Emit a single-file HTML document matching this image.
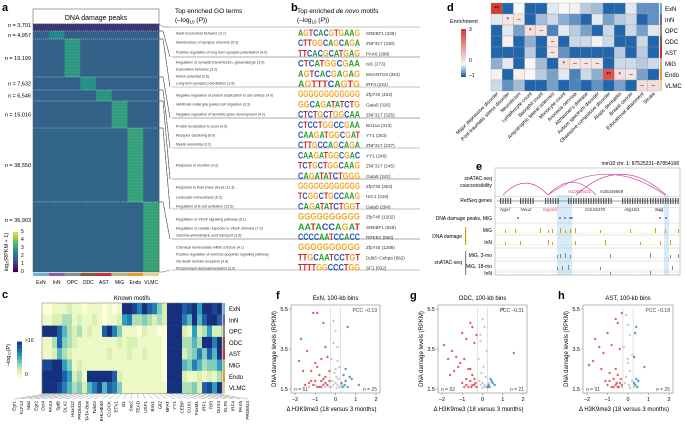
<!DOCTYPE html>
<html><head><meta charset="utf-8"><style>
body{margin:0;background:#fff}
svg{display:block;font-family:"Liberation Sans",sans-serif}
</style></head><body>
<svg id="fig" width="685" height="428" viewBox="0 0 685 428">
<g font-weight="bold" font-size="11" fill="#000">
<text x="2" y="11">a</text>
<text x="291" y="11">b</text>
<text x="447" y="11">d</text>
<text x="476" y="170">e</text>
<text x="2" y="298">c</text>
<text x="276" y="299">f</text>
<text x="410" y="299">g</text>
<text x="558" y="299">h</text>
</g>
<rect x="33" y="9" width="126" height="15" fill="#fff" stroke="#666" stroke-width="0.6"/>
<text x="96" y="20" font-size="7" text-anchor="middle">DNA damage peaks</text>
<g id="ga"></g>
<g id="gb"></g>
<text x="175" y="13" font-size="6.5">Top enriched GO terms</text>
<text x="175" y="22" font-size="6.5">(–log<tspan font-size="4.5" dy="1.5">10</tspan><tspan dy="-1.5"> (</tspan><tspan font-style="italic">P</tspan>))</text>
<text x="297" y="13" font-size="6.5">Top enriched <tspan font-style="italic">de novo</tspan> motifs</text>
<text x="297" y="22" font-size="6.5">(–log<tspan font-size="4.5" dy="1.5">10</tspan><tspan dy="-1.5"> (</tspan><tspan font-style="italic">P</tspan>))</text>
<g id="gc"></g>
<g id="gd"></g>
<g id="ge"></g>
<g id="gs"></g>
</svg>
<script>
const NS="http://www.w3.org/2000/svg";
function mk(p,t,a,txt){const e=document.createElementNS(NS,t);for(const k in a)e.setAttribute(k,a[k]);if(txt!==undefined)e.textContent=txt;p.appendChild(e);return e;}
// ---------- Panel a data ----------
const cellTypes=["ExN","InN","OPC","ODC","AST","MiG","Endo","VLMC"];
const typeColors=["#6ab0e0","#7f5fb0","#8c8c8c","#8b5a3a","#c8303a","#bdb37c","#f0962a","#e6cf8a"];
const clusterN=["3,701","4,957","19,199","7,632","6,546","15,016","38,550","36,903"];
const clusterBounds=[24,31,39,77,90,101,128,202,272];
const clusterHigh=[0.9,2.4,2.8,2.6,2.7,2.9,3.0,3.0];
const clusterBase=[0.9,1.55,1.6,1.55,1.6,1.6,1.65,1.65];
function viridis(v){const s=["#440154","#3b528b","#21918c","#5ec962","#fde725"];const t=Math.max(0,Math.min(1,v/5))*4;const i=Math.min(3,Math.floor(t)),f=t-i;
const h=c=>[1,3,5].map(k=>parseInt(c.substr(k,2),16));const a=h(s[i]),b=h(s[i+1]);return `rgb(${a.map((x,k)=>Math.round(x+(b[k]-x)*f)).join(",")})`;}
const ga=document.getElementById("ga");
const ax0=33,aw=126,cw=aw/8;
for(let k=0;k<8;k++){const y0=clusterBounds[k],y1=clusterBounds[k+1];
 for(let c=0;c<8;c++){const v=(c===k)?clusterHigh[k]:clusterBase[k];
  const r=mk(ga,"rect",{x:ax0+c*cw,y:y0,width:cw+0.3,height:y1-y0,fill:viridis(k===0?0.8:v)});
  }
 for(let yy=y0+2;yy<y1;yy+=3){const l=mk(ga,"line",{x1:ax0,x2:ax0+aw,y1:yy,y2:yy,stroke:"#1f3f6e",'stroke-width':0.5,opacity:0.3});}
 if(k>0){const d=mk(ga,"line",{x1:ax0,x2:ax0+aw,y1:y0,y2:y0,stroke:"#ddd",'stroke-width':0.6,'stroke-dasharray':"1,1"});}
 const ly=k===7?222:(k===0?27:(y0+y1)/2+2);
 const t=mk(ga,"text",{x:31,y:ly,'font-size':5.5,'text-anchor':'end'});
 mk(t,"tspan",{'font-style':'italic'},"n");mk(t,"tspan",{},` = ${clusterN[k]}`);}
mk(ga,"rect",{x:ax0,y:24,width:aw,height:248,fill:"none",stroke:"#555",'stroke-width':0.5});
for(let c=0;c<8;c++){const r=mk(ga,"rect",{x:ax0+c*cw,y:273,width:cw,height:3,fill:typeColors[c]});
 const t=mk(ga,"text",{x:ax0+c*cw+cw/2,y:284,'font-size':5,'text-anchor':'middle'},cellTypes[c]);}
for(let i=0;i<20;i++){const r=mk(ga,"rect",{x:13,y:270-i*2,width:5,height:2.1,fill:viridis(i/4)});}
[0,1,2,3,4,5].map(v=>{const t=mk(ga,"text",{x:21,y:273-v*8,'font-size':5},v);});
{const t=mk(ga,"text",{x:8,y:252,'font-size':5.5,'text-anchor':'middle',transform:'rotate(-90 8 252)'},"log₂(RPKM + 1)");}
// ---------- Panel b ----------
const goTerms=[["Adult locomotory behavior (3.7)",33],["Maintenance of synapse structure (5.0)",42],["Positive regulation of long term synaptic potentiation (4.0)",52],["Regulation of synaptic transmission, glutamatergic (3.9)",62],["Exploration behavior (3.2)",69],["Action potential (3.8)",76],["Long-term synaptic potentiation (3.8)",83],["Negative regulation of protein localization to cell surface (4.0)",95],["Hindbrain radial glia guided cell migration (3.3)",104],["Negative regulation of dendritic spine development (4.2)",114],["Protein localization to axon (4.5)",126],["Receptor clustering (6.0)",135],["Myelin assembly (3.2)",144],["Response to nicotine (4.3)",165],["Response to fluid shear stress (11.3)",187],["Leukocyte homeostasis (6.3)",197],["Regulation of B cell activation (12.8)",206],["Regulation of VEGF signaling pathway (6.1)",219],["Regulation of cellular response to VEGF stimulus (7.0)",228],["Gamma-aminobutyric acid transport (3.8)",235],["Chemical homeostasis within a tissue (4.1)",247],["Positive regulation of extrinsic apoptotic signaling pathway",254],["Via death domain receptors (3.8)",261],["Phospholipid dephosphorylation (3.5)",268]];
const groupLines=[27,57,87,118,148,179,209,239];
const motifSeqs=["AGTCACGTGAAG","CTTGGCAGCAGA","TTCACGCATGAG","CTCATGGCGAA","AGTCACGAGAG","AGTTTCAGTG","GGGGGGGGGGGG","GGCAGATATCTG","CTCTGCTGGCAA","CTCCTGGCCGAA","CAAGATGGCGAT","CTTGCCAGCAGA","CAAGATGGCGAC","TCTGCTGGCAAG","CAGATATCTGGG","GGGGGGGGGGGG","TCGGCTGCCAAG","CAGATATCTGGT","GGGGGGGGGG","AATACCAGAT","CCCCAATCCACC","GGGGGGGGGG","TTGCAATCCTGT","TTTTGGCCCTGG"];
const motifNames=["SREBF1 (336)","ZNF317 (330)","PAX6 (298)","Isl1 (273)","MSANTD3 (264)","IRF4 (222)","Zfp740 (434)","Gata5 (326)","ZNF317 (325)","Bcl11a (313)","YY1 (253)","ZNF317 (237)","YY1 (246)","ZNF317 (245)","Gata5 (242)","Zfp740 (353)","HIC1 (316)","Gata5 (294)","Zfp740 (1202)","SREBF1 (629)","RREB1 (560)","Zfp740 (1288)","Ddit3::Cebpa (682)","SF1 (632)"];
const gb=document.getElementById("gb");
goTerms.forEach(([s,y])=>{const t=mk(gb,"text",{x:176,y:y+1.5,'font-size':3.6,fill:'#333'},s);});
groupLines.forEach((y,i)=>{const l=mk(gb,"line",{x1:i===0?170:172,x2:420,y1:y,y2:y,stroke:i%2?"#bbb":"#888",'stroke-width':i%2?1.2:0.6});});
{const l=mk(gb,"line",{x1:172,x2:420,y1:270,y2:270,stroke:'#888','stroke-width':0.6});}
for(let k=0;k<8;k++){const yb=clusterBounds[k+1];const gy=k<7?groupLines[k+1]:270;
 const p=mk(gb,"polyline",{points:`159,${k===0?24:clusterBounds[k]} 163,${k===0?27:clusterBounds[k]} 170,${groupLines[k]}`,fill:'none',stroke:'#555','stroke-width':0.5});
 const q=mk(gb,"polyline",{points:`159,${yb} 163,${yb} 170,${gy}`,fill:'none',stroke:'#555','stroke-width':0.5});}
const baseCol={A:"#2ca02c",C:"#1f4fbf",G:"#f5a623",T:"#d62728"};
motifSeqs.forEach((s,i)=>{const y=32+i*10.2+4;
 const t=mk(gb,"text",{x:298,y:y,'font-size':9.5,'font-weight':'bold',textLength:62,lengthAdjust:'spacingAndGlyphs'});
 for(const ch of s) mk(t,"tspan",{fill:baseCol[ch]},ch);
 const n=mk(gb,"text",{x:366,y:y-1,'font-size':4.6,fill:'#333'},motifNames[i]);});
// ---------- Panel c ----------
const motifRows=cellTypes;
const motifLabels=["Egr1","KLF14","Maz","Egr2","Oct4","PAX3","SpiB","DLX2","Hoxd12","PRDM15","TATA-Box","Twist2","BHLHE40","CLOCK","ETV1","Id1","Sox2","TEAD","USF1","Bmi1","Gli2","NFAT","YY1","CEBP","CUX1","FoxM1","IRF1","Tcf3","DUX4","ELF5","IRF4","PAX5","PRDM14"];
const motifVals=[
[0,0,1,1,1,2,1,1,0,1,1,1,0,1,0,1,10,10,9,7,10,8,7,4,2,10,10,10,8,9,10,6,10,10,9,10],
[1,1,2,2,3,3,1,2,1,1,2,1,0,1,1,2,6,7,3,3,4,3,2,3,2,10,10,10,7,5,10,5,8,10,10,8],
[10,10,10,8,5,3,2,3,1,2,1,1,8,10,7,4,1,1,1,0,2,1,1,0,0,10,10,10,2,1,6,2,3,6,2,2],
[1,1,3,8,4,3,2,1,1,1,1,1,1,1,1,2,1,2,2,1,1,1,1,1,0,10,10,10,3,3,5,3,10,10,7,10],
[1,1,2,5,3,2,1,1,1,1,1,1,1,2,1,1,1,2,1,1,2,1,1,1,0,10,10,10,2,3,4,7,4,8,5,10],
[9,9,10,10,6,4,1,2,1,1,1,1,1,1,1,1,1,1,1,1,1,1,1,1,0,10,10,10,5,4,7,5,3,4,4,6],
[10,10,10,10,8,6,2,3,1,10,10,10,10,10,8,2,1,1,1,1,1,1,1,1,0,10,10,10,2,1,1,2,1,2,1,3],
[10,10,10,9,7,5,3,4,2,5,7,9,5,8,7,4,1,1,1,1,1,1,1,1,1,10,10,10,3,3,4,2,8,9,6,10]];
function ylgnbu(v){const s=["#ffffd9","#d9f0b3","#7fcdbb","#2c9fc0","#1d5fa8","#16307e"];const t=Math.max(0,Math.min(1,v/10))*5;const i=Math.min(4,Math.floor(t)),f=t-i;
const h=c=>[1,3,5].map(k=>parseInt(c.substr(k,2),16));const a=h(s[i]),b=h(s[i+1]);return `rgb(${a.map((x,k)=>Math.round(x+(b[k]-x)*f)).join(",")})`;}
const gc=document.getElementById("gc");
{const t=mk(gc,"text",{x:132,y:300,'font-size':6,'text-anchor':'middle'},"Known motifs");}
const cx0=42,cx1=222,cy0=303,ch=11.3;const nc=motifVals[0].length,ccw=(cx1-cx0)/nc;
motifVals.forEach((row,r)=>row.forEach((v,c)=>{const e=mk(gc,"rect",{x:cx0+c*ccw,y:cy0+r*ch,width:ccw+0.3,height:ch+0.2,fill:ylgnbu(v)});}));
mk(gc,"rect",{x:cx0,y:cy0,width:cx1-cx0,height:ch*8,fill:'none',stroke:'#777','stroke-width':0.5});
motifRows.forEach((n,r)=>{const b=mk(gc,"rect",{x:223,y:cy0+r*ch,width:2,height:ch,fill:typeColors[r]});
 const t=mk(gc,"text",{x:229,y:cy0+r*ch+8,'font-size':6},n);});
motifLabels.forEach((n,i)=>{const x=14+i*7.3;const tx=cx0+(i+0.5)*(cx1-cx0)/motifLabels.length;
 const l=mk(gc,"line",{x1:tx,y1:394,x2:x,y2:399,stroke:'#555','stroke-width':0.3});
 const t=mk(gc,"text",{x:x+1.5,y:401,'font-size':4.6,'text-anchor':'end',transform:`rotate(-90 ${x+1.5} 401)`},n);});
for(let i=0;i<10;i++){const r=mk(gc,"rect",{x:17,y:374-i*3.6,width:5,height:3.7,fill:ylgnbu(i+0.5)});}
[["0",376],[">10",342]].forEach(([s,y])=>{const t=mk(gc,"text",{x:25,y:y,'font-size':5},s);});
{const t=mk(gc,"text",{x:10,y:355,'font-size':5.5,'text-anchor':'middle',transform:'rotate(-90 10 355)'},"–log₁₀(P)");}
// ---------- Panel d ----------
const traits=["Major depressive disorder","Post-traumatic stress disorder","Neuroticism","Lymphocyte count","Basophil count","Amyotrophic lateral sclerosis","Monocyte count","Anorexia nervosa","Alzheimer's disease","Autism spectrum disorder","Obsessive compulsive disorder","Atopic dermatitis","Breast cancer","Educational attainment","Stroke"];
const enrich=[
[3,-1,0,-1,-1,-0.1,0,0.1,-0.3,-0.4,-1,-1,-0.1,-0.7,-0.7],
[-0.1,0.3,0.3,-1,-0.4,-0.2,-0.5,-0.7,-1,-0.1,-0.6,-0.3,-0.2,-1,-0.7],
[-1,-0.1,-0.6,0.4,0.3,-0.8,-0.1,-0.3,-0.6,-1,-0.2,-1,-0.2,-0.6,-0.1],
[-1,0.1,-1,-0.5,-1,0.3,-1,-0.2,-0.2,0.1,-0.2,-1,-1,-0.2,-1],
[-1,-1,-1,-0.3,-1,0.3,-0.7,-1,-1,-1,-1,-0.3,-1,-0.3,-1],
[-0.5,-0.1,-1,0,-0.4,-1,0.4,0.3,0.3,0.3,-1,-0.2,-0.2,-0.3,-0.2],
[0.1,-1,0.1,0,-0.3,-0.6,-0.1,-0.8,-0.2,-0.5,2.6,0.4,0.3,-0.6,-1],
[-0.2,-0.7,-0.4,-1,-1,-0.6,-1,-0.8,-1,-0.7,-1,-0.6,-1,0.4,0.4]];
const marks=[["**",0,0],["*",1,1],["–",1,2],["*",2,3],["–",2,4],["–",3,5],["–",4,5],["*",5,6],["–",5,7],["–",5,8],["–",5,9],["**",6,10],["*",6,11],["–",6,12],["–",7,13],["–",7,14]];
function rdbu(v){let a,b,f;const B=[33,102,172],W=[247,247,247],R=[214,60,50];if(v<0){a=W;b=B;f=Math.min(1,-v);}else{a=W;b=R;f=Math.min(1,v/3);}
return `rgb(${a.map((x,k)=>Math.round(x+(b[k]-x)*f)).join(",")})`;}
const gd=document.getElementById("gd");
const dx0=491,dy0=3,dw=11.2,dh=11;
enrich.forEach((row,r)=>row.forEach((v,c)=>{const e=mk(gd,"rect",{x:dx0+c*dw,y:dy0+r*dh,width:dw,height:dh,fill:rdbu(v),stroke:'#999','stroke-width':0.3});}));
marks.forEach(([s,r,c])=>{const t=mk(gd,"text",{x:dx0+(c+0.5)*dw,y:dy0+r*dh+7.5,'font-size':6,'text-anchor':'middle'},s);});
cellTypes.forEach((n,r)=>{const b=mk(gd,"rect",{x:660,y:dy0+r*dh,width:2,height:dh,fill:typeColors[r]});
 const t=mk(gd,"text",{x:665,y:dy0+r*dh+8,'font-size':6},n);});
traits.forEach((n,c)=>{const x=dx0+(c+0.5)*dw+2,y=94;const t=mk(gd,"text",{x:x,y:y,'font-size':5,'text-anchor':'end',transform:`rotate(-45 ${x} ${y})`},n);});
for(let i=0;i<24;i++){const v=3-i*4/23;const r=mk(gd,"rect",{x:461,y:29+i*2,width:5,height:2.1,fill:rdbu(v)});}
[["3",31],["0",62],["–1",77]].forEach(([s,y])=>{const t=mk(gd,"text",{x:469,y:y,'font-size':5},s);});
{const t=mk(gd,"text",{x:450,y:23,'font-size':5.5},"Enrichment");}
// ---------- Panel e ----------
const ge=document.getElementById("ge");
{const t=mk(ge,"text",{x:679,y:165,'font-size':5,'text-anchor':'end'},"mm10 chr. 1: 87525231–87854168");}
mk(ge,"rect",{x:557,y:195,width:15,height:80,fill:'#d6ecf8'});
mk(ge,"rect",{x:664,y:195,width:5,height:80,fill:'#d6ecf8'});
mk(ge,"rect",{x:495,y:168,width:185,height:107,fill:'none',stroke:'#999','stroke-width':0.5});
[[503,548],[548,596],[548,665],[576,666]].forEach(([a,b])=>{const h=Math.min(26,(b-a)*0.33);const p=mk(ge,"path",{d:`M${a},195 Q${(a+b)/2},${195-h*1.6} ${b},195`,fill:'none',stroke:'#d0409a','stroke-width':0.7});});
[194.5,205.5,221,233,246,259,270].forEach(y=>{const l=mk(ge,"line",{x1:495,x2:680,y1:y+2,y2:y+2,stroke:'#bbb','stroke-width':0.4});});
mk(ge,"line",{x1:497,x2:679,y1:201,y2:201,stroke:'#444','stroke-width':0.6});
[[500,512],[520,535],[545,560],[568,612],[622,648],[650,679]].forEach(([a,b])=>{for(let x=a;x<b;x+=2.5){const r=mk(ge,"rect",{x:x,y:198,width:1.2,height:6,fill:'#555'});}});
[["Ngef",505,'#333'],["Neu2",526,'#333'],["Inpp5d",550,'#e0455a'],["Gm33470",595,'#333'],["Atg16l1",632,'#333'],["Sag",659,'#000']].forEach(([s,x,c])=>{const t=mk(ge,"text",{x:x,y:211,'font-size':4.6,fill:c,'text-anchor':'middle','font-style':'italic'},s);});
[["rs10930431",568,'#e0455a'],["rs35349669",600,'#333']].forEach(([s,x,c])=>{const t=mk(ge,"text",{x:x,y:193,'font-size':4.4,fill:c},s);});
[518,560,565,570,572,660,666].forEach(x=>{const c=mk(ge,"circle",{cx:x,cy:218,r:0.9,fill:'#3040c0'});});
const trackYs=[233,245,258,270,275];const trackCols=['#d4a017','#d4a017','#888','#888','#888'];
const trackPeaks=[[505,515,540,548,552,560,565,570,575,600,630,655,665,678],[505,520,548,552,575,605,640,660,670],[557,560,565,570,610,650,670,678],[557,562,568,600,672],[610,650]];
trackPeaks.forEach((pk,i)=>{const y=trackYs[i];mk(ge,"line",{x1:497,x2:679,y1:y,y2:y,stroke:trackCols[i],'stroke-width':0.5,'stroke-dasharray':'0.6,1.6'});
 pk.forEach((x,j)=>{const r=mk(ge,"rect",{x:x,y:y-3-(j%3),width:1,height:3+(j%3),fill:trackCols[i]});});});
[["snATAC-seq",180],["coaccessibility",187],["RefSeq genes",202],["DNA damage peaks, MiG",220],["MiG",232],["InN",244],["MiG, 3-mo",257],["MiG, 18-mo",268],["InN",275]].forEach(([s,y])=>{const t=mk(ge,"text",{x:492,y:y,'font-size':5,'text-anchor':'end'},s);});
[["DNA damage",238,462],["snATAC-seq",264,462]].forEach(([s,y,x])=>{const t=mk(ge,"text",{x:x,y:y,'font-size':5,'text-anchor':'end'},s);});
mk(ge,"rect",{x:465,y:227,width:1.2,height:18,fill:'#d4a017'});
mk(ge,"rect",{x:465,y:251,width:1.2,height:24,fill:'#888'});
// ---------- Scatter panels f,g,h ----------
const fRedX=[-1.7,-1.8,-1.1,-0.9,-1.4,-0.6,-0.7,-0.5,-1.2,-1.6,-0.9,-0.4,-0.8,-1.0,-0.6,-0.3,-1.3,-1.1,-0.7,-0.5,-0.9,-0.4,-1.5,-0.8,-0.6,-1.0,-0.3,-0.7,-1.2,-0.5];
const fRedY=[4.0,2.9,5.3,5.3,3.4,4.8,3.0,3.6,2.4,2.4,2.6,3.1,2.2,1.9,2.0,2.4,1.8,1.7,1.9,2.1,1.6,1.7,1.7,1.6,1.7,2.8,1.9,1.6,1.9,1.8];
const fGrayX=[-0.1,0.0,0.1,-0.2,0.2,-0.05,0.05,0.15,-0.15,0.0,0.1,-0.1,0.2,-0.2,0.3,-0.3,0.0,0.1,-0.1,0.05,-0.5,0.4,-1.3,-1.0];
const fGrayY=[4.9,4.4,3.6,3.0,2.6,2.3,2.1,2.0,1.9,1.8,1.7,1.7,1.6,1.6,1.7,1.6,2.5,2.9,3.8,1.55,1.6,1.6,1.6,1.7];
const fBlueX=[0.6,0.5,0.4,0.7,0.3,1.15,0.5,0.35,0.6,0.45,0.8];
const fBlueY=[4.6,2.5,2.2,2.1,1.8,1.7,1.9,1.6,1.6,1.7,2.0];
const gRedX=[-1.9,-1.7,-1.5,-1.3,-1.0,-0.8,-0.6,-0.5,-0.4,-1.1,-0.9,-0.7,-1.6,-1.2,-0.3,-0.5,-0.8,-1.0,-0.6,-0.4,-0.7,-0.9,-0.5,-0.3,-1.4,-0.6,-0.4,-0.8,-0.35,-0.55];
const gRedY=[3.7,3.0,3.4,3.1,4.3,4.0,4.8,4.6,3.8,2.8,3.0,2.5,2.2,2.6,4.2,2.2,2.0,1.8,1.9,1.7,1.6,1.6,1.7,1.6,2.4,2.5,2.0,1.7,1.8,1.6];
const gGrayX=[0.0,0.1,-0.1,0.2,-0.2,0.05,-0.05,0.15,-0.15,0.0,0.1,-0.1,0.2,-0.25,0.0,0.3,0.1,-0.1];
const gGrayY=[5.0,4.6,3.9,3.4,3.0,2.6,2.3,2.1,1.9,1.8,1.7,1.7,1.6,1.6,1.55,1.8,1.6,4.2];
const gBlueX=[1.0,1.55,0.4,0.5,0.3,0.6,0.35,0.45,0.25];
const gBlueY=[5.5,3.3,2.0,1.8,1.7,1.7,1.6,1.9,1.6];
const hRedX=[-1.9,-1.6,-1.4,-1.2,-1.0,-0.8,-0.6,-0.5,-0.9,-1.3,-1.7,-0.4,-0.7,-1.1,-0.5,-0.3,-0.6,-0.8,-1.0,-0.4,-0.5,-0.7,-0.3,-0.9,-0.6,-0.35,-0.45,-0.55];
const hRedY=[2.7,4.0,3.6,3.3,4.3,3.7,5.0,4.8,2.3,2.5,2.9,3.5,2.0,1.9,2.2,5.3,1.7,1.6,1.7,1.8,1.6,1.6,1.7,1.9,2.5,2.0,1.6,1.8];
const hGrayX=[-0.1,0.0,0.1,-0.2,0.2,0.0,0.1,-0.1,0.2,-0.15,0.05,0.3,-0.3,0.1,0.0];
const hGrayY=[5.2,4.7,4.2,3.6,3.2,2.8,2.4,2.1,1.9,1.8,1.7,1.6,1.6,1.55,3.0];
const hBlueX=[0.4,0.35,0.8,0.3,0.4,0.5,0.35,0.45,0.3];
const hBlueY=[4.6,4.3,2.6,3.1,2.0,1.9,1.7,1.6,1.8];
const scatterTitles=["ExN, 100-kb bins","ODC, 100-kb bins","AST, 100-kb bins"];
const pccVals=["–0.19","–0.31","–0.18"];
const nLeft=[61,92,91],nRight=[25,21,25];
const xTicks=[-2,-1,0,1,2],yTicks=[1.5,3.5,5.5];
const panels=[{x0:291,x1:380,red:[fRedX,fRedY],gray:[fGrayX,fGrayY],blue:[fBlueX,fBlueY]},{x0:438,x1:527,red:[gRedX,gRedY],gray:[gGrayX,gGrayY],blue:[gBlueX,gBlueY]},{x0:583,x1:673,red:[hRedX,hRedY],gray:[hGrayX,hGrayY],blue:[hBlueX,hBlueY]}];
const gs=document.getElementById("gs");
panels.forEach((p,i)=>{const y0=305,y1=393;
 const sx=v=>p.x0+4+(v+2)/4*(p.x1-p.x0-8);const sy=v=>389-(v-1.5)/4*80;
 const g=mk(gs,"g",{});
 mk(g,"rect",{x:p.x0,y:y0,width:p.x1-p.x0,height:y1-y0,fill:'none',stroke:'#888','stroke-width':0.6});
 [-0.25,0.25].forEach(v=>mk(g,"line",{x1:sx(v),x2:sx(v),y1:y0+3,y2:y1,stroke:'#ccc','stroke-width':0.6}));
 [[p.gray,'#c4c4c4','gray-point'],[p.red,'#d9545a','red-point'],[p.blue,'#3f8fb8','blue-point']].forEach(([d,c,nm])=>d[0].forEach((xv,j)=>{const e=mk(g,"circle",{cx:sx(xv),cy:sy(d[1][j]),r:1.2,fill:c,opacity:0.9});}));
 xTicks.forEach(v=>{mk(g,"line",{x1:sx(v),x2:sx(v),y1:y1,y2:y1+2,stroke:'#666','stroke-width':0.5});const t=mk(g,"text",{x:sx(v),y:y1+8,'font-size':5.5,'text-anchor':'middle'},v<0?"–"+(-v):v);});
 yTicks.forEach(v=>{mk(g,"line",{x1:p.x0-2,x2:p.x0,y1:sy(v),y2:sy(v),stroke:'#666','stroke-width':0.5});const t=mk(g,"text",{x:p.x0-3,y:sy(v)+2,'font-size':5.5,'text-anchor':'end'},v);});
 const tt=mk(g,"text",{x:(p.x0+p.x1)/2,y:300,'font-size':6,'text-anchor':'middle'},scatterTitles[i]);
 const pc=mk(g,"text",{x:p.x1-3,y:312,'font-size':5,'text-anchor':'end',fill:'#444'},"PCC "+pccVals[i]);
 const nl=mk(g,"text",{x:p.x0+3,y:391,'font-size':5,fill:'#444'});mk(nl,"tspan",{'font-style':'italic'},"n");mk(nl,"tspan",{},` = ${nLeft[i]}`);
 const nr=mk(g,"text",{x:p.x1-3,y:391,'font-size':5,'text-anchor':'end',fill:'#444'});mk(nr,"tspan",{'font-style':'italic'},"n");mk(nr,"tspan",{},` = ${nRight[i]}`);
 const xl=mk(g,"text",{x:(p.x0+p.x1)/2-4,y:411,'font-size':6,'text-anchor':'middle'},"Δ H3K9me3 (18 versus 3 months)");
 const yx=p.x0-15;const yl=mk(g,"text",{x:yx,y:349,'font-size':6,'text-anchor':'middle',transform:`rotate(-90 ${yx} 349)`},"DNA damage levels (RPKM)");
});
</script>
</body></html>
